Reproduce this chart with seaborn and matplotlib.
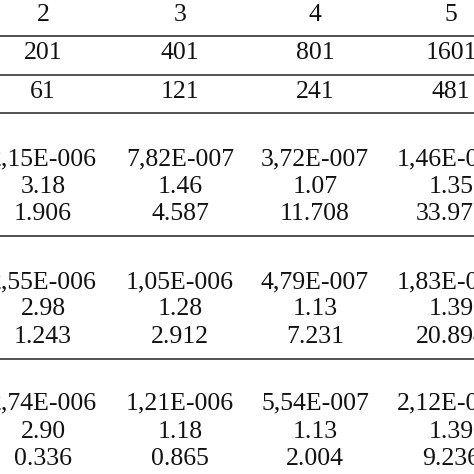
import matplotlib
matplotlib.use("Agg")
import matplotlib.pyplot as plt
import seaborn as sns

sns.set_style("white")
plt.rcParams['font.serif'] = ['Liberation Serif', 'Times New Roman', 'DejaVu Serif']
plt.rcParams['font.family'] = 'serif'

levels = ["2", "3", "4", "5"]
nodes = ["201", "401", "801", "1601"]
elements = ["61", "121", "241", "481"]

group1 = [["2,15E-006", "7,82E-007", "3,72E-007", "1,46E-006"],
          ["3.18", "1.46", "1.07", "1.35"],
          ["1.906", "4.587", "11.708", "33.975"]]
group2 = [["2,55E-006", "1,05E-006", "4,79E-007", "1,83E-006"],
          ["2.98", "1.28", "1.13", "1.39"],
          ["1.243", "2.912", "7.231", "20.894"]]
group3 = [["2,74E-006", "1,21E-006", "5,54E-007", "2,12E-006"],
          ["2.90", "1.18", "1.13", "1.39"],
          ["0.336", "0.865", "2.004", "9.236"]]

col_x = [43, 180, 315, 451]
fs = 18.5

fig = plt.figure(figsize=(4.74, 4.74), dpi=100)
ax = fig.add_axes([0, 0, 1, 1])
ax.set_xlim(0, 474)
ax.set_ylim(474, 0)
ax.axis("off")

def row(vals, y):
    for x, v in zip(col_x, vals):
        ax.text(x, y, v, ha="center", va="center", fontsize=fs, color="#111111")

row(levels, 15)
row(nodes, 53)
row(elements, 92)
for g, ys in [(group1, [159, 187, 214]), (group2, [282, 309, 337]), (group3, [403, 432, 459])]:
    for vals, y in zip(g, ys):
        row(vals, y)

for y in [36, 75, 113, 236, 359]:
    ax.axhline(y, color="#333333", lw=1.2)

fig.savefig("out.png", dpi=100)
